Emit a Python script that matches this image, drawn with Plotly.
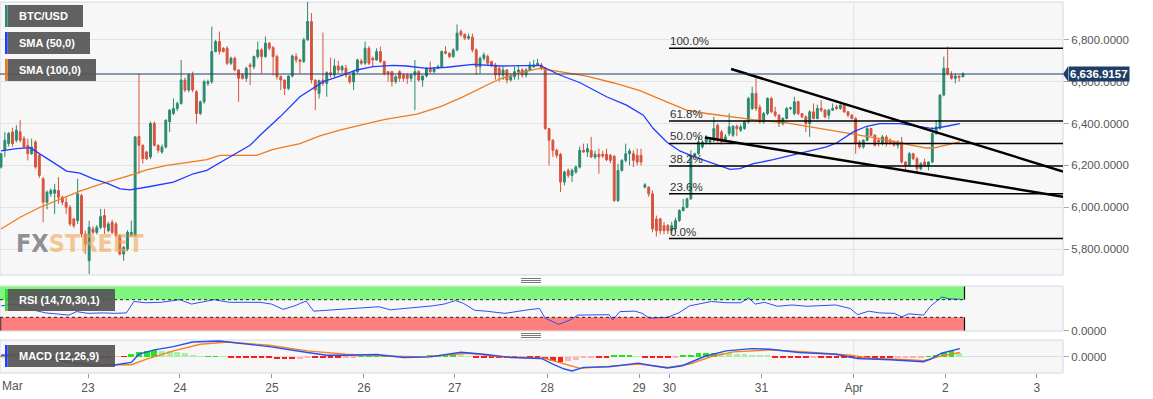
import plotly.graph_objects as go

# ---------------- data ----------------
opens = [6192,6272,6304,6360,6320,6360,6328,6296,6256,6312,
         6248,6136,6024,6064,6067,6080,6048,6024,6000,5944,
         5936,6056,5872,5744,5896,5880,5904,5960,5888,5928,
         5920,5864,5776,5800,5864,5864,6339,6296,6264,6240,
         6400,6296,6264,6288,6408,6448,6472,6496,6608,6560,
         6632,6552,6448,6504,6592,6600,6744,6792,6760,6760,
         6688,6712,6656,6632,6616,6680,6672,6720,6752,6720,
         6784,6763,6720,6624,6608,6568,6627,6720,6704,6696,
         6800,6888,6608,6544,6608,6592,6643,6632,6675,6656,
         6664,6627,6600,6648,6699,6688,6760,6712,6704,6744,
         6696,6648,6648,6600,6648,6632,6632,6616,6632,6648,
         6608,6627,6664,6648,6664,6672,6744,6736,6720,6752,
         6840,6827,6808,6813,6752,6672,6712,6720,6696,6680,
         6664,6632,6656,6608,6624,6648,6656,6632,6656,6672,
         6680,6680,6664,6376,6320,6272,6253,6120,6176,6152,
         6168,6192,6272,6264,6272,6240,6253,6253,6253,6248,
         6243,6032,6176,6224,6256,6256,6248,6248,6096,6096,
         6064,5944,5944,5912,5912,5888,5896,5936,5984,6000,
         6040,6248,6256,6288,6312,6312,6320,6392,6360,6320,
         6352,6344,6387,6368,6376,6408,6472,6544,6477,6408,
         6448,6520,6456,6440,6400,6424,6472,6448,6504,6448,
         6432,6400,6456,6424,6472,6464,6440,6464,6480,6472,
         6488,6456,6440,6424,6312,6288,6320,6376,6344,6320,
         6304,6336,6320,6312,6296,6312,6216,6200,6256,6232,
         6184,6216,6200,6216,6352,6376,6536,6664,6632,6616,
         6627,6624]
highs = [6260,6360,6360,6380,6392,6416,6340,6328,6328,6320,
         6256,6144,6080,6090,6112,6144,6056,6048,6010,5950,
         6136,6064,5888,5936,5910,5915,5992,5992,5930,5940,
         5930,5870,5815,5890,5936,6340,6637,6300,6270,6410,
         6410,6300,6300,6420,6470,6520,6505,6704,6620,6640,
         6648,6560,6510,6610,6610,6864,6800,6840,6765,6770,
         6720,6720,6660,6640,6672,6690,6725,6792,6760,6816,
         6790,6770,6730,6630,6610,6630,6730,6736,6710,6810,
         6984,6928,6610,6610,6835,6650,6715,6710,6700,6680,
         6680,6635,6655,6710,6710,6792,6770,6720,6760,6768,
         6700,6650,6650,6630,6655,6640,6640,6640,6704,6655,
         6630,6670,6696,6670,6680,6750,6770,6740,6760,6874,
         6850,6830,6830,6830,6760,6720,6740,6730,6700,6690,
         6670,6672,6660,6640,6672,6680,6664,6665,6696,6705,
         6710,6690,6670,6380,6325,6280,6260,6175,6185,6185,
         6200,6290,6304,6304,6336,6270,6280,6270,6280,6255,
         6250,6208,6230,6304,6280,6272,6280,6280,6115,6100,
         6080,5960,5950,5930,5920,5930,5950,5990,6040,6045,
         6272,6260,6336,6320,6345,6330,6432,6400,6370,6350,
         6448,6392,6395,6395,6415,6528,6576,6624,6490,6455,
         6525,6528,6480,6445,6430,6480,6480,6528,6510,6450,
         6440,6464,6496,6490,6512,6470,6470,6496,6490,6504,
         6495,6460,6445,6430,6320,6325,6384,6380,6350,6330,
         6345,6345,6330,6320,6320,6336,6220,6264,6260,6240,
         6215,6232,6220,6384,6416,6540,6720,6768,6650,6640,
         6630,6645]
lows = [6185,6240,6290,6290,6310,6310,6280,6224,6250,6184,
        6140,5928,5990,6050,5968,6016,6010,5968,5910,5900,
        5920,5856,5776,5680,5870,5870,5895,5872,5880,5870,
        5856,5770,5744,5790,5860,5860,6160,6208,6225,6230,
        6290,6260,6255,6280,6360,6440,6460,6490,6550,6550,
        6550,6400,6440,6495,6580,6590,6740,6730,6740,6680,
        6680,6650,6504,6610,6600,6584,6660,6710,6640,6715,
        6750,6630,6610,6560,6536,6560,6620,6690,6640,6690,
        6795,6592,6464,6520,6580,6528,6620,6620,6640,6640,
        6620,6590,6560,6640,6680,6680,6680,6670,6700,6690,
        6630,6600,6576,6590,6600,6600,6590,6600,6464,6600,
        6576,6620,6640,6640,6660,6665,6730,6712,6715,6745,
        6815,6800,6800,6740,6632,6640,6700,6680,6670,6610,
        6600,6608,6592,6600,6610,6610,6620,6620,6650,6665,
        6675,6655,6370,6200,6240,6235,6072,6104,6140,6120,
        6160,6185,6260,6240,6235,6230,6160,6235,6220,6210,
        6025,6025,6170,6215,6200,6192,6200,6200,6090,6050,
        5880,5860,5870,5870,5872,5870,5880,5930,5980,5995,
        6035,6240,6250,6280,6300,6300,6310,6310,6300,6310,
        6340,6336,6340,6360,6370,6400,6465,6460,6400,6400,
        6440,6450,6430,6384,6390,6420,6465,6440,6440,6425,
        6360,6336,6420,6420,6455,6425,6420,6460,6465,6465,
        6450,6430,6420,6256,6280,6280,6315,6340,6290,6290,
        6296,6290,6300,6290,6280,6208,6176,6195,6225,6160,
        6176,6195,6176,6210,6345,6370,6530,6630,6610,6592,
        6600,6620]
closes = [6256,6320,6352,6304,6368,6320,6288,6256,6288,6192,
          6152,6024,6072,6080,6083,6048,6024,6000,5920,5912,
          6064,5872,5824,5904,5880,5904,5955,5904,5920,5880,
          5864,5776,5808,5880,5880,6336,6296,6232,6232,6400,
          6296,6272,6288,6416,6464,6472,6496,6608,6560,6632,
          6560,6448,6504,6600,6600,6744,6792,6744,6744,6688,
          6712,6656,6616,6616,6664,6672,6720,6752,6720,6784,
          6760,6720,6624,6608,6568,6627,6723,6704,6696,6800,
          6888,6608,6560,6605,6592,6643,6632,6675,6656,6672,
          6632,6600,6648,6704,6688,6760,6688,6704,6744,6696,
          6640,6640,6600,6624,6616,6616,6616,6632,6648,6608,
          6627,6664,6648,6664,6672,6744,6736,6720,6752,6832,
          6824,6808,6816,6752,6672,6712,6728,6688,6680,6632,
          6632,6656,6608,6624,6648,6656,6632,6656,6680,6680,
          6688,6664,6376,6320,6272,6248,6120,6168,6152,6176,
          6192,6272,6264,6280,6240,6253,6240,6245,6227,6224,
          6032,6176,6224,6256,6269,6224,6216,6216,6107,6064,
          5896,5888,5888,5888,5888,5912,5936,5984,6000,6040,
          6248,6256,6312,6312,6336,6320,6376,6320,6312,6336,
          6384,6387,6376,6384,6408,6520,6544,6472,6408,6448,
          6520,6456,6440,6400,6424,6472,6475,6504,6448,6432,
          6400,6456,6424,6472,6464,6432,6464,6472,6472,6488,
          6456,6440,6424,6304,6288,6320,6376,6344,6296,6312,
          6336,6304,6304,6296,6312,6216,6200,6256,6232,6184,
          6208,6200,6216,6352,6384,6536,6664,6640,6616,6627,
          6621,6637]
candle_x = list(range(len(closes)))  # hourly candle index

sma50_x = [0,4.1,7.6,9.3,12.8,17.1,20.6,24.1,27.6,31.1,33.7,38.9,45,50.2,53.7,58.9,65,
           67.6,72.8,78,81.5,84.1,88.4,92.8,97.1,102.3,105.8,111.1,116.3,123.2,130.2,
           140.6,145.8,151.1,158,163.2,167.6,170.2,173.7,177.1,180.6,185.8,190.2,192.8,
           196.3,201.5,208.4,215.4,218,222.4,225.9,229.3,234.5,239.8,243.2,246.7,250.2]
sma50_y = [6269,6280,6285,6264,6224,6173,6163,6136,6115,6088,6083,6099,6120,6160,6176,6232,6296,
           6344,6432,6528,6568,6600,6627,6656,6672,6678,6675,6664,6669,6683,6675,
           6678,6632,6595,6528,6488,6440,6376,6312,6269,6243,6208,6181,6184,
           6208,6227,6256,6288,6307,6360,6387,6400,6400,6387,6376,6387,6400]
sma100_x = [0,5,10.2,15.4,20.6,25.8,31.1,34.5,38,43.2,48.4,53.7,57.1,60.6,62.4,66.7,71,78,
            83.2,88.4,95.4,100.6,108.5,114.5,119.7,123.2,130.2,135.4,140.6,145.8,152.8,
            159.7,166.7,173.7,178.9,184.1,190.2,196.3,205,213.7,222.4,229.3,236.3,241.5,
            243.2,246.7,250.2]
sma100_y = [5896,5952,6000,6040,6077,6109,6136,6157,6179,6200,6213,6227,6248,6248,6246,6248,6277,6304,
            6341,6368,6400,6421,6445,6480,6520,6552,6614,6643,6664,6648,6627,
            6595,6557,6504,6464,6448,6434,6419,6403,6376,6352,6328,6301,6283,
            6283,6296,6312]

trend_upper_x = [190.5, 277.1]
trend_upper_y = [6661, 6171]
trend_lower_x = [183.7, 277.1]
trend_lower_y = [6333, 6050]

fib_low, fib_high = 5850, 6760
fib_start_x = 174.3
fib_ratios = [1.0, 0.618, 0.5, 0.382, 0.236, 0.0]
fib_labels = ["100.0%", "61.8%", "50.0%", "38.2%", "23.6%", "0.0%"]

last_price = 6636.9157

rsi_x = [0,3.7,7.7,11.7,17.7,19.7,22.7,26.7,29.7,32.7,34.7,37.7,41.7,46.7,49.7,55.6,59.6,67.6,
         70.6,73.6,76.6,79.6,81.6,87.6,93.6,98.6,101.6,107.6,112.6,115.6,118.6,120.6,123.6,
         126.5,131.5,137.5,140.5,142,145.5,148.5,150.5,158.7,159.6,161.5,165.4,167.3,169.2,
         173.9,176.8,179.7,183.5,185.4,189.2,193,195.1,196.8,199.2,202.6,206.4,210.2,217.8,
         221.6,223.5,226.4,229.2,233.1,235,236.9,240.7,242.6,245.5,247.4,250.2]
rsi_y = [56,60,48,40,35,43,39,40,39,40,66,63,64,70,60,70,64,64,
         60,48,56,67,44,47,50,54,47,51,56,60,68,62,46,
         44,39,47,50,28,14,24,35,36,24,43,44,39,28,
         30,40,56,62,66,63,63,74,60,64,55,58,55,58,
         50,36,44,40,39,31,38,35,56,76,72,71]

macd_x = [0,5,10,15,20,25,30,34,36,40,45,50,57,62,70,80,85,90,98,105,112,120,126,133,141,144,
          147,149,152,158.7,166.3,170.1,173.9,177.8,183.5,189.2,195.9,200.6,208.3,217.8,223.5,
          232.1,240.7,242.6,245.4,250.2]
macd_y = [8,14,0,-26,-46,-56,-50,-36,14,40,60,88,94,80,60,24,8,8,12,-6,-2,26,14,-6,-12,-46,
          -76,-88,-66,-62,-40,-56,-70,-56,0,34,48,44,24,14,-12,
          -20,-32,-16,20,48]
signal_x = [0,10,20,28,34,38,45,52,59,70,80,90,100,110,122,130,142,149,151.1,158.7,166.3,174,
            179.7,185.4,191.1,200.6,210.2,221.6,227.3,236.9,240.7,245.4,250.2]
signal_y = [0,-6,-36,-50,-50,-16,34,74,88,68,34,14,4,-2,20,0,-12,-56,-72,-60,-46,-66,
            -46,0,28,40,28,8,-12,-20,-26,4,24]

hist_x = list(range(0, 251, 2))
hist_y = [2,2,2,2,0,-2,-4,-6,-6,-6,-6,-6,-4,-4,-4,-2,-2,16,26,34,38,36,34,28,22,10,
          3,3,3,2,-4,-8,-8,-8,-8,-10,-14,-16,-16,-14,-4,-4,-8,-8,-8,-6,-4,
          2,2,2,2,2,2,2,2,2,4,8,8,8,6,2,-4,-4,-6,-6,-6,-6,-4,-6,-10,-16,-26,-32,-30,-20,
          -8,-4,-4,-4,4,4,4,3,-6,-8,-8,-8,-4,4,10,20,24,24,22,20,16,14,10,6,4,
          -4,-4,-5,-6,-6,-5,-5,-6,-6,-6,-8,-8,-9,-10,-10,-10,-9,-8,-6,-4,2,8,24,34,20]

tick_pos = [22.7, 46.7, 70.7, 94.7, 118.4, 142.5, 166.5, 174.4, 198.4, 222.5, 246.4, 270.3]
tick_text = ["23", "24", "25", "26", "27", "28", "29", "30", "31", "Apr", "2", "3"]
apr_pos = 222.5

# ---------------- styling ----------------
GREEN = "#2b8a6e"
RED = "#d8533e"
NAVY = "#1f3d66"
BORDER = "#d3d7e5"
PANEL = "#f7f7f7"
FONT = "Liberation Sans, Arial, sans-serif"

W, H = 1153, 399
ML, MR, MT, MB = 0, 90, 2, 26
PW = W - ML - MR
PH = H - MT - MB


def px(xp):
    return (xp - ML) / PW


def py(yp):
    return (H - MB - yp) / PH


main_dom = [py(275), 1.0]
rsi_dom = [py(331), py(286)]
macd_dom = [0.0, py(340)]

fig = go.Figure()

fig.add_trace(go.Candlestick(
    x=candle_x, open=opens, high=highs, low=lows, close=closes,
    increasing=dict(line=dict(color=GREEN, width=1), fillcolor=GREEN),
    decreasing=dict(line=dict(color=RED, width=1), fillcolor=RED),
    whiskerwidth=0, hoverinfo="skip", xaxis="x", yaxis="y", showlegend=False))

fig.add_trace(go.Scatter(x=sma100_x, y=sma100_y, mode="lines",
                         line=dict(color="#f07a1c", width=1.3), yaxis="y", hoverinfo="skip"))
fig.add_trace(go.Scatter(x=sma50_x, y=sma50_y, mode="lines",
                         line=dict(color="#1f3cff", width=1.3), yaxis="y", hoverinfo="skip"))
fig.add_trace(go.Scatter(x=trend_upper_x, y=trend_upper_y, mode="lines",
                         line=dict(color="black", width=2.5), yaxis="y", hoverinfo="skip"))
fig.add_trace(go.Scatter(x=trend_lower_x, y=trend_lower_y, mode="lines",
                         line=dict(color="black", width=2.5), yaxis="y", hoverinfo="skip"))

# RSI
fig.add_trace(go.Scatter(x=rsi_x, y=rsi_y, mode="lines",
                         line=dict(color="#2d4ef5", width=1), yaxis="y2", hoverinfo="skip"))

# MACD histogram colours
hist_colors = []
for j, v in enumerate(hist_y):
    prev = hist_y[j - 1] if j > 0 else v
    if v >= 0:
        hist_colors.append("#22e622" if v >= prev else "#a8f0a8")
    else:
        hist_colors.append("#ff1a1a" if v <= prev else "#ffb0b0")
fig.add_trace(go.Bar(x=hist_x, y=hist_y, width=1.5, marker=dict(color=hist_colors, line=dict(width=0)),
                     yaxis="y3", hoverinfo="skip"))
fig.add_trace(go.Scatter(x=signal_x, y=signal_y, mode="lines",
                         line=dict(color="#f58220", width=1.4), yaxis="y3", hoverinfo="skip"))
fig.add_trace(go.Scatter(x=macd_x, y=macd_y, mode="lines",
                         line=dict(color="#2a4cf0", width=1.4), yaxis="y3", hoverinfo="skip"))

shapes = []
# panel backgrounds
for yr in ["y", "y2", "y3"]:
    shapes.append(dict(type="rect", xref="paper", yref=yr + " domain", x0=0, x1=1, y0=0, y1=1,
                       fillcolor=PANEL, line=dict(color=BORDER, width=1), layer="below"))
    shapes.append(dict(type="line", xref="x", yref=yr + " domain", x0=apr_pos, x1=apr_pos, y0=0, y1=1,
                       line=dict(color="#e2e2e2", width=1), layer="below"))

x_left = -0.26
band_end = candle_x[-1] + 0.4
shapes += [
    dict(type="rect", xref="x", yref="y2", x0=x_left, x1=band_end, y0=70, y1=100,
         fillcolor="#7ff77f", line=dict(width=0), layer="below"),
    dict(type="rect", xref="x", yref="y2", x0=x_left, x1=band_end, y0=0, y1=30,
         fillcolor="#ff7f7f", line=dict(width=0), layer="below"),
    dict(type="line", xref="x", yref="y2", x0=x_left, x1=band_end, y0=70, y1=70,
         line=dict(color="#222", width=1, dash="dot")),
    dict(type="line", xref="x", yref="y2", x0=x_left, x1=band_end, y0=30, y1=30,
         line=dict(color="#222", width=1, dash="dot")),
    dict(type="line", xref="x", yref="y2", x0=band_end, x1=band_end, y0=70, y1=100,
         line=dict(color="#111", width=1.2)),
    dict(type="line", xref="x", yref="y2", x0=band_end, x1=band_end, y0=0, y1=30,
         line=dict(color="#111", width=1.2)),
    dict(type="line", xref="x", yref="y2", x0=x_left + 0.2, x1=x_left + 0.2, y0=0, y1=30,
         line=dict(color="#333", width=1)),
]

# fib levels
fib_levels = [fib_low + r * (fib_high - fib_low) for r in fib_ratios]
for lv in fib_levels:
    shapes.append(dict(type="line", xref="x", yref="y", x0=fib_start_x, x1=277.2, y0=lv, y1=lv,
                       line=dict(color="black", width=1.5), layer="above"))

# current price line
shapes.append(dict(type="line", xref="paper", yref="y", x0=0, x1=1, y0=last_price, y1=last_price,
                   line=dict(color=NAVY, width=1.2), layer="above"))
shapes.append(dict(type="path", xref="paper", yref="y",
                   path=f"M 1.0,{last_price} L {px(1068)},{last_price + 36} L {px(1068)},{last_price - 36} Z",
                   fillcolor=NAVY, line=dict(width=0)))

# panel handles
for base in (278.5, 333.5):
    for k in range(3):
        yy = py(base + 2 * k)
        shapes.append(dict(type="line", xref="paper", yref="paper", x0=px(521), x1=px(541), y0=yy, y1=yy,
                           line=dict(color="#7a7a7a", width=1)))

# legend boxes
boxes = [
    ("BTC/USD", GREEN, 5, 27, 83),
    ("SMA (50,0)", "#1f3cff", 32, 54, 90),
    ("SMA (100,0)", "#f07a1c", 59, 81, 96),
    ("RSI (14,70,30,1)", "#33dd33", 289, 311, 115),
    ("MACD (12,26,9)", "#1f3cff", 345, 367, 115),
]
annotations = []
for label, col, y0, y1, x1 in boxes:
    shapes.append(dict(type="rect", xref="paper", yref="paper", x0=px(7.5), x1=px(x1), y0=py(y1), y1=py(y0),
                       fillcolor="rgba(85,85,85,0.93)", line=dict(width=0), layer="above"))
    shapes.append(dict(type="rect", xref="paper", yref="paper", x0=px(5), x1=px(7.5), y0=py(y1), y1=py(y0),
                       fillcolor=col, line=dict(width=0), layer="above"))
    annotations.append(dict(text=f"<b>{label}</b>", xref="paper", yref="paper", x=px(17), y=py((y0 + y1) / 2),
                            xanchor="left", yanchor="middle", showarrow=False,
                            font=dict(family=FONT, size=11, color="white")))

for lv, lab in zip(fib_levels, fib_labels):
    annotations.append(dict(text=lab, xref="x", yref="y", x=fib_start_x - 0.2, y=lv, xanchor="left",
                            yanchor="bottom", showarrow=False, yshift=-1,
                            font=dict(family=FONT, size=11.5, color="#333")))

annotations.append(dict(
    text="<b><span style='color:rgba(115,115,125,0.8)'>FX</span>"
         "<span style='color:rgba(240,165,80,0.6)'>STREET</span></b>",
    xref="paper", yref="paper", x=px(14), y=py(243), xanchor="left", yanchor="middle", showarrow=False,
    font=dict(family="Liberation Sans Narrow, DejaVu Sans Condensed, sans-serif", size=25)))

annotations.append(dict(text="<b>6,636.9157</b>", xref="paper", yref="y", x=px(1068), y=last_price,
                        xanchor="left", yanchor="middle", showarrow=False, bgcolor=NAVY,
                        borderpad=1, font=dict(family=FONT, size=11.5, color="white")))
annotations.append(dict(text="Mar", xref="paper", yref="paper", x=0, y=py(386), xanchor="left",
                        yanchor="middle", showarrow=False, font=dict(family=FONT, size=12, color="#555")))

axis_font = dict(family=FONT, size=11.5, color="#555")
fig.update_layout(
    width=W, height=H, margin=dict(l=ML, r=MR, t=MT, b=MB),
    paper_bgcolor="white", plot_bgcolor="rgba(0,0,0,0)",
    showlegend=False, hovermode=False, bargap=0,
    font=dict(family=FONT),
    xaxis=dict(domain=[0, 1], range=[x_left, 277.1], anchor="y3", tickmode="array",
               tickvals=tick_pos, ticktext=tick_text, ticks="outside", ticklen=4, tickcolor="#999",
               showgrid=False, zeroline=False, showline=False, rangeslider=dict(visible=False),
               tickfont=dict(family=FONT, size=12, color="#555")),
    yaxis=dict(domain=main_dom, range=[5676, 6981], side="right", anchor="x",
               tickvals=[5800, 6000, 6200, 6400, 6600, 6800], tickformat=",.4f",
               ticks="outside", ticklen=5, tickcolor="#aaa", gridcolor="#e3e3e3",
               zeroline=False, showline=False, tickfont=axis_font),
    yaxis2=dict(domain=rsi_dom, range=[-1, 101], side="right", anchor="x",
                tickvals=[0], ticktext=["0.0000"], ticks="outside", ticklen=5, tickcolor="#aaa",
                showgrid=False, zeroline=False, showline=False, tickfont=axis_font),
    yaxis3=dict(domain=macd_dom, range=[-100, 100], side="right", anchor="x",
                tickvals=[0], ticktext=["0.0000"], ticks="outside", ticklen=5, tickcolor="#aaa",
                showgrid=True, gridcolor="#dedede", zeroline=False, showline=False, tickfont=axis_font),
    shapes=shapes, annotations=annotations,
)

fig.write_html("out.html", config={"displayModeBar": False},
               post_script="document.body.style.margin='0';")
